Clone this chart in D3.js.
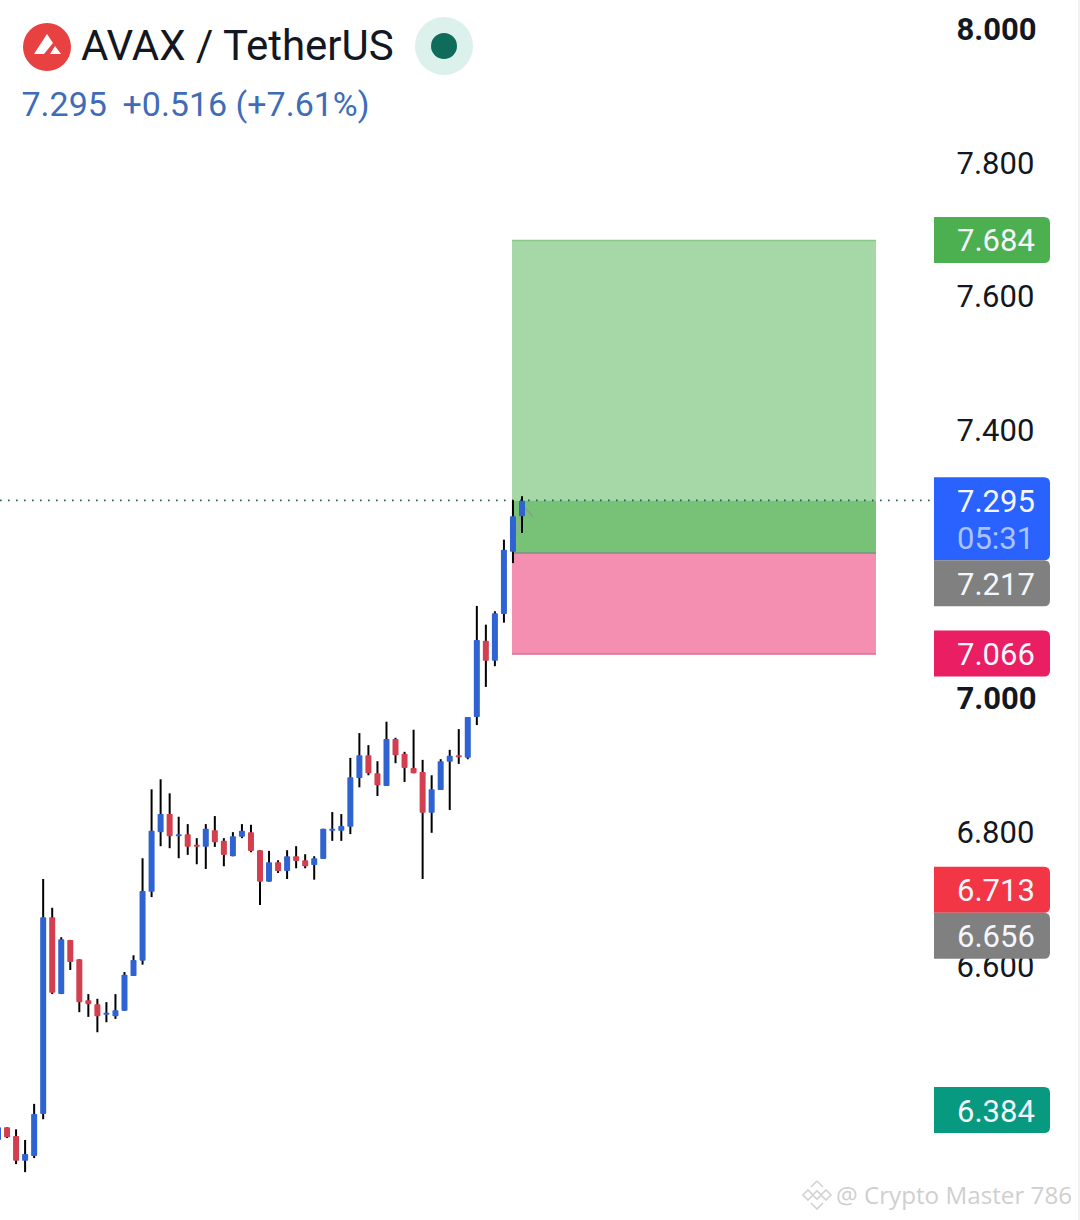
<!DOCTYPE html>
<html>
<head>
<meta charset="utf-8">
<script src="https://cdn.jsdelivr.net/npm/d3@7"></script>
<style>
body { margin: 0; background: #fff; }
text { font-family: Roboto, sans-serif; }
</style>
</head>
<body>
<div id="chart"></div>
<script>
// Candle values
const opens = [6.340,6.359,6.346,6.309,6.316,6.379,6.673,6.558,6.639,6.610,6.549,6.543,6.527,6.525,6.533,6.585,6.608,6.711,6.800,6.827,6.794,6.797,6.781,6.778,6.803,6.787,6.764,6.793,6.800,6.773,6.726,6.755,6.742,6.764,6.758,6.751,6.760,6.802,6.802,6.808,6.881,6.915,6.888,6.869,6.939,6.917,6.896,6.890,6.829,6.863,6.905,6.915,6.911,6.972,7.086,7.056,7.126,7.219,7.272];
const highs = [6.362,6.359,6.356,6.340,6.394,6.730,6.687,6.643,6.639,6.610,6.558,6.551,6.546,6.558,6.591,6.616,6.761,6.864,6.879,6.858,6.823,6.812,6.791,6.812,6.824,6.791,6.800,6.812,6.811,6.773,6.772,6.758,6.773,6.779,6.767,6.764,6.805,6.830,6.827,6.911,6.948,6.930,6.906,6.965,6.941,6.920,6.953,6.908,6.885,6.909,6.923,6.954,6.972,7.138,7.110,7.130,7.237,7.296,7.302];
const lows = [6.336,6.343,6.304,6.292,6.313,6.371,6.558,6.558,6.594,6.531,6.524,6.501,6.516,6.521,6.533,6.585,6.602,6.703,6.779,6.776,6.761,6.766,6.752,6.745,6.778,6.749,6.764,6.791,6.770,6.691,6.726,6.739,6.730,6.746,6.746,6.729,6.760,6.787,6.787,6.797,6.867,6.885,6.854,6.869,6.903,6.875,6.888,6.730,6.799,6.863,6.833,6.902,6.909,6.960,7.017,7.048,7.113,7.202,7.247];
const closes = [6.359,6.344,6.309,6.319,6.379,6.673,6.560,6.640,6.606,6.546,6.543,6.525,6.530,6.534,6.587,6.609,6.712,6.802,6.827,6.794,6.797,6.778,6.778,6.805,6.785,6.766,6.794,6.802,6.772,6.726,6.755,6.742,6.764,6.757,6.749,6.761,6.805,6.805,6.809,6.882,6.915,6.888,6.870,6.939,6.915,6.896,6.888,6.829,6.864,6.906,6.914,6.912,6.972,7.087,7.056,7.127,7.222,7.272,7.295];

const priceTicks = [8, 7.8, 7.6, 7.4, 7, 6.8, 6.6];
const boldTicks = [8, 7];

const tagValues = [7.684, 7.295, 7.217, 7.066, 6.713, 6.656, 6.384];
const tagColors = ["#4caf50", "#2962ff", "#808080", "#e91e63", "#f23645", "#808080", "#089981"];
const countdown = "05:31";

const lastPrice = 7.295;
const targetPrice = 7.684;
const entryPrice = 7.217;
const stopPrice = 7.066;
const positionStart = 56.89;
const positionEnd = 97.18;

const symbolName = "AVAX / TetherUS";
const priceLine = "7.295";
const changeLine = "+0.516 (+7.61%)";

const width = 1080, height = 1220;

const svg = d3.select("#chart")
  .append("svg")
  .attr("width", width)
  .attr("height", height)
  .style("display", "block");

const x = d3.scaleLinear().domain([0, 58]).range([-2, 522]);
const y = d3.scaleLinear().domain([6.6, 8]).range([966, 29]);

// Long position tool
const zones = [
  {top: targetPrice, bottom: entryPrice, fill: "#a5d8a6"},
  {top: lastPrice, bottom: entryPrice, fill: "#78c278"},
  {top: entryPrice, bottom: stopPrice, fill: "#f48fb1"}
];
svg.selectAll(".zone")
  .data(zones)
  .enter()
  .append("rect")
  .attr("class", "zone")
  .attr("x", x(positionStart))
  .attr("width", x(positionEnd) - x(positionStart))
  .attr("y", d => y(d.top))
  .attr("height", d => y(d.bottom) - y(d.top))
  .attr("fill", d => d.fill);

svg.append("line")
  .attr("x1", x(positionStart)).attr("x2", x(positionEnd))
  .attr("y1", y(targetPrice)).attr("y2", y(targetPrice))
  .attr("stroke", "#86c88a").attr("stroke-width", 1.5);
svg.append("line")
  .attr("x1", x(positionStart)).attr("x2", x(positionEnd))
  .attr("y1", y(entryPrice)).attr("y2", y(entryPrice))
  .attr("stroke", "#7f8f80").attr("stroke-width", 1.5);
svg.append("line")
  .attr("x1", x(positionStart)).attr("x2", x(positionEnd))
  .attr("y1", y(stopPrice)).attr("y2", y(stopPrice))
  .attr("stroke", "#d9708f").attr("stroke-width", 1.5);

// Last price dotted line
svg.append("line")
  .attr("x1", 0).attr("x2", 934)
  .attr("y1", y(lastPrice) - 0.5).attr("y2", y(lastPrice) - 0.5)
  .attr("stroke", "#1f5f57")
  .attr("stroke-width", 1.6)
  .attr("stroke-dasharray", "1.6 6.4");

// Arrow of the position tool, faint grey
svg.append("path")
  .attr("d", `M${x(positionStart) + 5},${y(entryPrice) - 20} L${x(58) - 1},${y(lastPrice) + 12}`)
  .attr("stroke", "#9aa59a").attr("stroke-width", 1.4).attr("fill", "none");
svg.append("path")
  .attr("d", `M${x(58) + 3},${y(lastPrice) + 7} L${x(58) + 11},${y(lastPrice) + 16}`)
  .attr("stroke", "#8f9a8f").attr("stroke-width", 1.4).attr("fill", "none");

// Candles
const candles = opens.map((o, i) => ({i, o, h: highs[i], l: lows[i], c: closes[i]}));

svg.selectAll(".wick")
  .data(candles)
  .enter()
  .append("line")
  .attr("class", "wick")
  .attr("x1", d => x(d.i))
  .attr("x2", d => x(d.i))
  .attr("y1", d => y(d.h))
  .attr("y2", d => y(d.l))
  .attr("stroke", "#000")
  .attr("stroke-width", 2);

svg.selectAll(".body")
  .data(candles)
  .enter()
  .append("rect")
  .attr("class", "body")
  .attr("x", d => x(d.i) - 3)
  .attr("width", 6)
  .attr("y", d => y(Math.max(d.o, d.c)))
  .attr("height", d => Math.max(y(Math.min(d.o, d.c)) - y(Math.max(d.o, d.c)), 2))
  .attr("rx", 0.8)
  .attr("fill", d => d.c >= d.o ? "#2f63d2" : "#d2404f");

// Price axis
const axis = svg.append("g")
  .attr("transform", "translate(956.5,0)")
  .call(d3.axisRight(y).tickValues(priceTicks).tickFormat(d3.format(".3f")).tickSize(0).tickPadding(0));
axis.select(".domain").remove();
axis.selectAll("text")
  .style("font-family", "Roboto, sans-serif")
  .style("font-size", "31px")
  .style("font-weight", d => boldTicks.includes(d) ? 700 : 400)
  .attr("fill", "#131722")
  .attr("dy", "0.33em");

// Price tags, stacked so that they do not overlap
const tagRow = 46, timerRow = 37;
let lastBottom = -Infinity;
const tags = tagValues.map((v, i) => {
  const h = v === lastPrice ? tagRow + timerRow : tagRow;
  const top = Math.max(y(v) - tagRow / 2 - 0.5, lastBottom);
  lastBottom = top + h;
  return {v, color: tagColors[i], top, h};
});

const tagPath = d => {
  const r = 6, l = 934, w = 116;
  return `M${l},${d.top} H${l + w - r} Q${l + w},${d.top} ${l + w},${d.top + r} V${d.top + d.h - r} Q${l + w},${d.top + d.h} ${l + w - r},${d.top + d.h} H${l} Z`;
};

svg.selectAll(".tag")
  .data(tags)
  .enter()
  .append("path")
  .attr("class", "tag")
  .attr("d", tagPath)
  .attr("fill", d => d.color);

svg.selectAll(".tag-label")
  .data(tags)
  .enter()
  .append("text")
  .attr("class", "tag-label")
  .attr("x", 957)
  .attr("y", d => d.top + tagRow / 2 + 11.5)
  .attr("font-size", 31)
  .attr("fill", "#f4f6fb")
  .text(d => d3.format(".3f")(d.v));

svg.append("text")
  .attr("x", 957)
  .attr("y", y(lastPrice) + 48)
  .attr("font-size", 31)
  .attr("fill", "#a9c3fb")
  .text(countdown);

// Header
svg.append("circle").attr("cx", 47).attr("cy", 47).attr("r", 24).attr("fill", "#e84142");
svg.append("path")
  .attr("d", "M34,54 L47,34 L53,43 L44,54 Z M50,54 L55,46 L61,54 Z")
  .attr("fill", "#fff");

svg.append("text")
  .attr("x", 81).attr("y", 59.5)
  .attr("font-size", 42)
  .attr("fill", "#131722")
  .text(symbolName);

svg.append("circle").attr("cx", 444).attr("cy", 46).attr("r", 29).attr("fill", "#dcf0ec");
svg.append("circle").attr("cx", 444).attr("cy", 46).attr("r", 13).attr("fill", "#0f6b5a");

svg.append("text")
  .attr("x", 21.5).attr("y", 116)
  .attr("font-size", 34)
  .attr("fill", "#3f6cb8")
  .text(priceLine);
svg.append("text")
  .attr("x", 122.5).attr("y", 116)
  .attr("font-size", 34)
  .attr("fill", "#3f6cb8")
  .text(changeLine);

// Watermark
const mark = svg.append("g")
  .attr("transform", "translate(817,1195)")
  .attr("fill", "none")
  .attr("stroke", "#d2d2d2")
  .attr("stroke-width", 1.6);
mark.append("path").attr("d", "M0,-14 L6,-8 M0,-14 L-6,-8 M-14,0 L-9,-5 L-4,0 L-9,5 Z M14,0 L9,-5 L4,0 L9,5 Z M-6,8 L0,14 L6,8");
mark.append("rect").attr("x", -3).attr("y", -3).attr("width", 6).attr("height", 6).attr("transform", "rotate(45)");

svg.append("text")
  .attr("x", 836).attr("y", 1204)
  .attr("font-size", 24.2)
  .attr("fill", "#cfcfcf")
  .style("font-family", "'Open Sans', sans-serif")
  .text("@ Crypto Master 786");

// Thin edge on the right of the screenshot
svg.append("line")
  .attr("x1", 1079).attr("x2", 1079)
  .attr("y1", 0).attr("y2", height)
  .attr("stroke", "#eeeeee").attr("stroke-width", 1.5);
</script>
</body>
</html>
